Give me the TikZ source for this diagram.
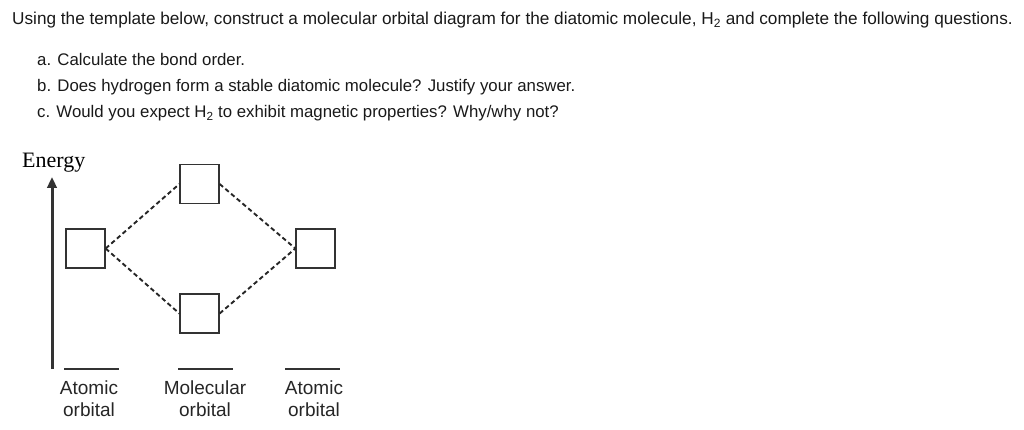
\documentclass[tikz,border=0pt]{standalone}
\usepackage{fontspec}
\setmainfont{Liberation Sans}
\newfontfamily\serifE{Liberation Serif}
\usetikzlibrary{arrows.meta}
\tikzset{
  orb/.style={draw=black!80, line width=1.3pt, minimum width=39pt, minimum height=39pt, inner sep=0pt, fill=white},
  conn/.style={draw=black!85, line width=1.9pt, dash pattern=on 4.5pt off 3pt},
  qtext/.style={anchor=base west, inner sep=0pt, font=\fontsize{16.8}{19}\selectfont, text=black!90},
  lbl/.style={align=center, inner sep=0pt, font=\fontsize{19}{22}\selectfont, text=black!85},
  base/.style={draw=black!80, line width=1.3pt},
}
\begin{document}
\begin{tikzpicture}[x=1pt,y=-1pt]
\useasboundingbox (0,0) rectangle (1024,430);
\node[qtext, font=\fontsize{17.2}{19}\selectfont] (q0) at (12,25) {Using the template below, construct a molecular orbital diagram for the diatomic molecule, H\textsubscript{2} and complete the following questions.};
\node[qtext] (qa) at (37,66) {a. Calculate the bond order.};
\node[qtext] (qb) at (37,92) {b. Does hydrogen form a stable diatomic molecule? Justify your answer.};
\node[qtext] (qc) at (37,118) {c. Would you expect H\textsubscript{2} to exhibit magnetic properties? Why/why not?};
\node[anchor=base west, inner sep=0pt, font=\serifE\fontsize{22}{24}\selectfont] (en) at (22,168) {Energy};
\coordinate (abot) at (52,369);
\coordinate (atop) at (52,177);
\draw[line width=3pt, draw=black!80, -{Triangle[length=11pt,width=9.5pt]}] (abot) -- (atop);
\node[orb] (la) at (85.5,248.5) {};
\node[orb] (ra) at (315.5,248.5) {};
\node[orb] (tm) at (199.5,184) {};
\node[orb] (bm) at (199.5,313.5) {};
\draw[conn] (la.east) -- (tm.west);
\draw[conn] (la.east) -- (bm.west);
\draw[conn] (tm.east) -- (ra.west);
\draw[conn] (bm.east) -- (ra.west);
\coordinate (u1a) at (64,369); \coordinate (u1b) at (119,369);
\coordinate (u2a) at (178,369); \coordinate (u2b) at (233,369);
\coordinate (u3a) at (285,369); \coordinate (u3b) at (340,369);
\draw[base] (u1a) -- (u1b);
\draw[base] (u2a) -- (u2b);
\draw[base] (u3a) -- (u3b);
\node[lbl] (l1) at (89,399) {Atomic\\orbital};
\node[lbl] (l2) at (205,399) {Molecular\\orbital};
\node[lbl] (l3) at (314,399) {Atomic\\orbital};
\end{tikzpicture}
\end{document}
